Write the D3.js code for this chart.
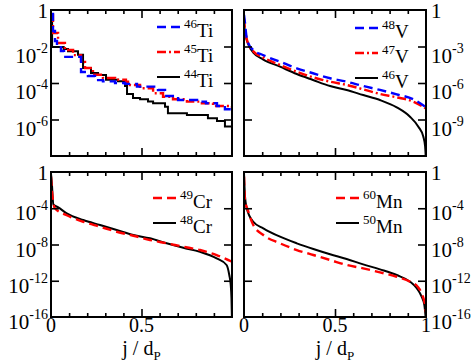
<!DOCTYPE html>
<html>
<head>
<meta charset="utf-8">
<script src="https://cdn.jsdelivr.net/npm/d3@7"></script>
<style>
  body { margin: 0; background: #fff; }
  text { font-family: "Liberation Serif", "Times New Roman", serif; fill: #000; }
</style>
</head>
<body>
<div id="chart"></div>
<script>
// ---- data: x = j/dP, values given as log10 of the probability ----

// Ti panel (staircase)
const ti46X   = [0, 0.011, 0.022, 0.033, 0.055, 0.072, 0.166, 0.204, 0.243, 0.287, 0.354, 0.409, 0.475, 0.591, 0.630, 0.702, 0.807, 0.856, 0.917, 0.961, 1.0];
const ti46Log = [-0.22, -1.15, -1.70, -1.97, -2.25, -2.57, -3.40, -3.62, -3.84, -3.91, -4.00, -4.05, -4.20, -4.38, -4.71, -4.93, -5.02, -5.11, -5.26, -5.44, -5.44];
const ti45X   = [0, 0.011, 0.039, 0.077, 0.122, 0.166, 0.188, 0.232, 0.287, 0.354, 0.414, 0.436, 0.492, 0.564, 0.619, 0.674, 0.751, 0.823, 0.895, 1.0];
const ti45Log = [-0.27, -1.26, -1.81, -2.19, -2.47, -2.85, -3.18, -3.55, -3.73, -3.82, -3.93, -4.11, -4.29, -4.56, -4.75, -4.89, -5.02, -5.11, -5.26, -5.44];
const ti44X   = [0, 0.006, 0.070, 0.094, 0.149, 0.177, 0.221, 0.260, 0.304, 0.370, 0.409, 0.420, 0.453, 0.492, 0.536, 0.564, 0.630, 0.646, 0.751, 0.867, 0.917, 0.961, 1.0];
const ti44Log = [-0.22, -2.03, -2.14, -2.26, -2.45, -3.18, -3.45, -3.56, -3.82, -3.91, -4.16, -4.60, -4.82, -4.89, -5.02, -5.11, -5.30, -5.66, -5.75, -5.93, -6.08, -6.39, -6.39];

// V panel
const vX      = [0, 0.005, 0.012, 0.024, 0.051, 0.104, 0.198, 0.290, 0.379, 0.473, 0.564, 0.655, 0.747, 0.839, 0.930, 1.0];
const v48Log  = [-0.4, -1.0, -2.0, -2.74, -3.29, -3.70, -4.25, -4.79, -5.20, -5.61, -5.89, -6.25, -6.57, -6.93, -7.34, -8.0];
const v47Log  = [-0.7, -1.5, -2.2, -2.80, -3.40, -3.89, -4.52, -5.07, -5.53, -5.89, -6.16, -6.52, -6.90, -7.18, -7.53, -8.1];
const v46X    = [0, 0.005, 0.012, 0.024, 0.051, 0.104, 0.198, 0.290, 0.379, 0.473, 0.564, 0.655, 0.747, 0.839, 0.912, 0.958, 0.985, 0.995, 1.0];
const v46Log  = [-0.9, -1.8, -2.3, -2.85, -3.5, -4.05, -4.66, -5.26, -5.75, -6.25, -6.57, -6.99, -7.40, -8.0, -8.77, -9.59, -10.4, -11.2, -12.5];

// Cr panel
const cr49X   = [0, 0.004, 0.022, 0.087, 0.178, 0.271, 0.363, 0.455, 0.547, 0.639, 0.731, 0.823, 0.915, 1.0];
const cr49Log = [-0.5, -1.8, -4.0, -4.77, -5.49, -6.04, -6.59, -7.03, -7.50, -7.87, -8.24, -8.61, -9.16, -9.90];
const cr48X   = [0, 0.004, 0.013, 0.040, 0.087, 0.178, 0.271, 0.363, 0.455, 0.547, 0.639, 0.731, 0.823, 0.915, 0.970, 0.985, 0.993, 0.997, 1.0];
const cr48Log = [-0.2, -1.07, -3.57, -3.9, -4.56, -5.30, -5.85, -6.40, -6.95, -7.32, -7.87, -8.36, -8.80, -9.53, -10.26, -11.37, -12.47, -13.9, -16.5];

// Mn panel
const mn60X   = [0, 0.005, 0.024, 0.051, 0.106, 0.198, 0.290, 0.381, 0.473, 0.564, 0.655, 0.747, 0.839, 0.912, 0.954, 0.980, 0.993, 1.0];
const mn60Log = [-0.5, -3.0, -4.38, -5.85, -6.95, -7.87, -8.61, -9.16, -9.71, -10.26, -10.63, -11.07, -11.56, -12.1, -12.66, -13.58, -14.5, -15.5];
const mn50X   = [0, 0.005, 0.015, 0.051, 0.106, 0.198, 0.290, 0.381, 0.473, 0.564, 0.655, 0.747, 0.839, 0.912, 0.949, 0.976, 0.991, 1.0];
const mn50Log = [-0.1, -2.54, -4.0, -5.49, -6.21, -7.14, -7.87, -8.50, -9.08, -9.60, -10.19, -10.74, -11.37, -12.1, -12.83, -13.76, -14.68, -16.5];

// tick values
const minorX = [0.1, 0.2, 0.3, 0.4, 0.6, 0.7, 0.8, 0.9];
const majorX = [0.5];

// ---- styles ----
const styles = {
  blueDash:  { color: "#0000ff", dash: "9,5",       width: 2.4 },
  redDash:   { color: "#ff0000", dash: "9,5",       width: 2.4 },
  redDashDot:{ color: "#ff0000", dash: "9,3,2,3",   width: 2.4 },
  black:     { color: "#000000", dash: null,        width: 2 }
};

const W = 474, H = 364;
const svg = d3.select("#chart").append("svg")
  .attr("width", W).attr("height", H);
svg.append("rect").attr("width", W).attr("height", H).attr("fill", "#fff");

const panels = [
  { id: "ti", left: 51, right: 232, top: 10, bottom: 156, yMin: -8,
    majorY: [-2, -4, -6], labelsY: [0, -2, -4, -6], side: "left", labOff: 16,
    labelsX: [], curve: d3.curveStepAfter,
    legX: 157, legY: 27,
    series: [
      { x: ti46X, y: ti46Log, st: "blueDash",   sup: "46", name: "Ti" },
      { x: ti45X, y: ti45Log, st: "redDashDot", sup: "45", name: "Ti" },
      { x: ti44X, y: ti44Log, st: "black",      sup: "44", name: "Ti" }
    ] },
  { id: "v", left: 244, right: 426, top: 10, bottom: 156, yMin: -12,
    majorY: [-3, -6, -9], labelsY: [0, -3, -6, -9], side: "right", labOff: 16,
    labelsX: [], curve: d3.curveMonotoneX,
    legX: 355, legY: 28,
    series: [
      { x: vX,  y: v48Log, st: "blueDash",   sup: "48", name: "V" },
      { x: vX,  y: v47Log, st: "redDashDot", sup: "47", name: "V" },
      { x: v46X, y: v46Log, st: "black",     sup: "46", name: "V" }
    ] },
  { id: "cr", left: 51, right: 232, top: 172, bottom: 317, yMin: -16,
    majorY: [-4, -8, -12], labelsY: [0, -4, -8, -12, -16], side: "left", labOff: 12,
    labelsX: [0, 0.5], curve: d3.curveMonotoneX,
    legX: 153, legY: 198,
    series: [
      { x: cr49X, y: cr49Log, st: "redDash", sup: "49", name: "Cr" },
      { x: cr48X, y: cr48Log, st: "black",   sup: "48", name: "Cr" }
    ] },
  { id: "mn", left: 244, right: 426, top: 172, bottom: 317, yMin: -16,
    majorY: [-4, -8, -12], labelsY: [0, -4, -8, -12, -16], side: "right", labOff: 12,
    labelsX: [0, 0.5, 1], curve: d3.curveMonotoneX,
    legX: 336, legY: 198,
    series: [
      { x: mn60X, y: mn60Log, st: "redDash", sup: "60", name: "Mn" },
      { x: mn50X, y: mn50Log, st: "black",   sup: "50", name: "Mn" }
    ] }
];

panels.forEach(drawPanel);

function drawPanel(p) {
  const g = svg.append("g").attr("class", "panel-" + p.id);

  const x = d3.scaleLinear().domain([0, 1]).range([p.left, p.right]);
  const y = d3.scaleLog().domain([Math.pow(10, p.yMin), 1]).range([p.bottom, p.top]);

  // clip for curves
  g.append("clipPath").attr("id", "clip-" + p.id)
    .append("rect")
    .attr("x", p.left).attr("y", p.top)
    .attr("width", p.right - p.left).attr("height", p.bottom - p.top);

  // curves
  const line = d3.line()
    .x(d => x(d[0]))
    .y(d => y(Math.pow(10, d[1])))
    .curve(p.curve);

  const curves = g.append("g").attr("clip-path", "url(#clip-" + p.id + ")");
  // draw black last so it sits on top like the original
  p.series.slice().reverse().forEach(s => {
    const st = styles[s.st];
    const pts = s.x.map((v, i) => [v, s.y[i]]);
    curves.append("path")
      .datum(pts)
      .attr("d", line)
      .attr("fill", "none")
      .attr("stroke", st.color)
      .attr("stroke-width", st.width)
      .attr("stroke-dasharray", st.dash)
      .attr("stroke-linejoin", "miter");
  });

  // inward ticks on all four sides
  const tickStyle = sel => {
    sel.select(".domain").remove();
    sel.selectAll(".tick line").attr("stroke", "#000").attr("stroke-width", 1.6);
  };
  g.append("g").attr("transform", `translate(0,${p.bottom})`)
    .call(d3.axisBottom(x).tickValues(minorX).tickSize(-4).tickFormat("")).call(tickStyle);
  g.append("g").attr("transform", `translate(0,${p.bottom})`)
    .call(d3.axisBottom(x).tickValues(majorX).tickSize(-8).tickFormat("")).call(tickStyle);
  g.append("g").attr("transform", `translate(0,${p.top})`)
    .call(d3.axisTop(x).tickValues(minorX).tickSize(-4).tickFormat("")).call(tickStyle);
  g.append("g").attr("transform", `translate(0,${p.top})`)
    .call(d3.axisTop(x).tickValues(majorX).tickSize(-8).tickFormat("")).call(tickStyle);

  const yTicks = p.majorY.map(e => Math.pow(10, e));
  g.append("g").attr("transform", `translate(${p.left},0)`)
    .call(d3.axisLeft(y).tickValues(yTicks).tickSize(-8).tickFormat("")).call(tickStyle);
  g.append("g").attr("transform", `translate(${p.right},0)`)
    .call(d3.axisRight(y).tickValues(yTicks).tickSize(-8).tickFormat("")).call(tickStyle);

  // frame
  g.append("rect")
    .attr("x", p.left).attr("y", p.top)
    .attr("width", p.right - p.left).attr("height", p.bottom - p.top)
    .attr("fill", "none").attr("stroke", "#000").attr("stroke-width", 2);

  // y tick labels
  p.labelsY.forEach(e => {
    const ty = y(Math.pow(10, e));
    const lx = p.side === "left" ? p.left - 3 : p.right + 5;
    const t = g.append("text")
      .attr("x", lx)
      .attr("text-anchor", p.side === "left" ? "end" : "start")
      .style("font-size", "21px");
    if (e === 0) {
      t.attr("y", ty + 8).text("1");
    } else {
      t.attr("y", ty + p.labOff);
      t.append("tspan").text("10");
      t.append("tspan").attr("dy", -10).style("font-size", "14px").text(String(e));
    }
  });

  // x tick labels and title (bottom row only)
  if (p.labelsX.length) {
    p.labelsX.forEach(v => {
      g.append("text")
        .attr("x", x(v)).attr("y", 332)
        .attr("text-anchor", "middle")
        .style("font-size", "20px")
        .text(v === 0 ? "0" : v === 1 ? "1" : String(v));
    });
    const t = g.append("text")
      .attr("x", (p.left + p.right) / 2).attr("y", 355)
      .attr("text-anchor", "middle")
      .style("font-size", "20px");
    t.append("tspan").text("j / d");
    t.append("tspan").attr("dy", 5).style("font-size", "13px").text("P");
  }

  // legend
  const leg = g.append("g");
  p.series.forEach((s, i) => {
    const st = styles[s.st];
    const ly = p.legY + i * 25;
    leg.append("line")
      .attr("x1", p.legX).attr("x2", p.legX + 23)
      .attr("y1", ly).attr("y2", ly)
      .attr("stroke", st.color)
      .attr("stroke-width", st.width)
      .attr("stroke-dasharray", st.dash);
    const t = leg.append("text")
      .attr("x", p.legX + 27).attr("y", ly + 1)
      .style("font-size", "13px");
    t.append("tspan").text(s.sup);
    t.append("tspan").attr("dy", 9).style("font-size", "19px").text(s.name);
  });
}
</script>
</body>
</html>
